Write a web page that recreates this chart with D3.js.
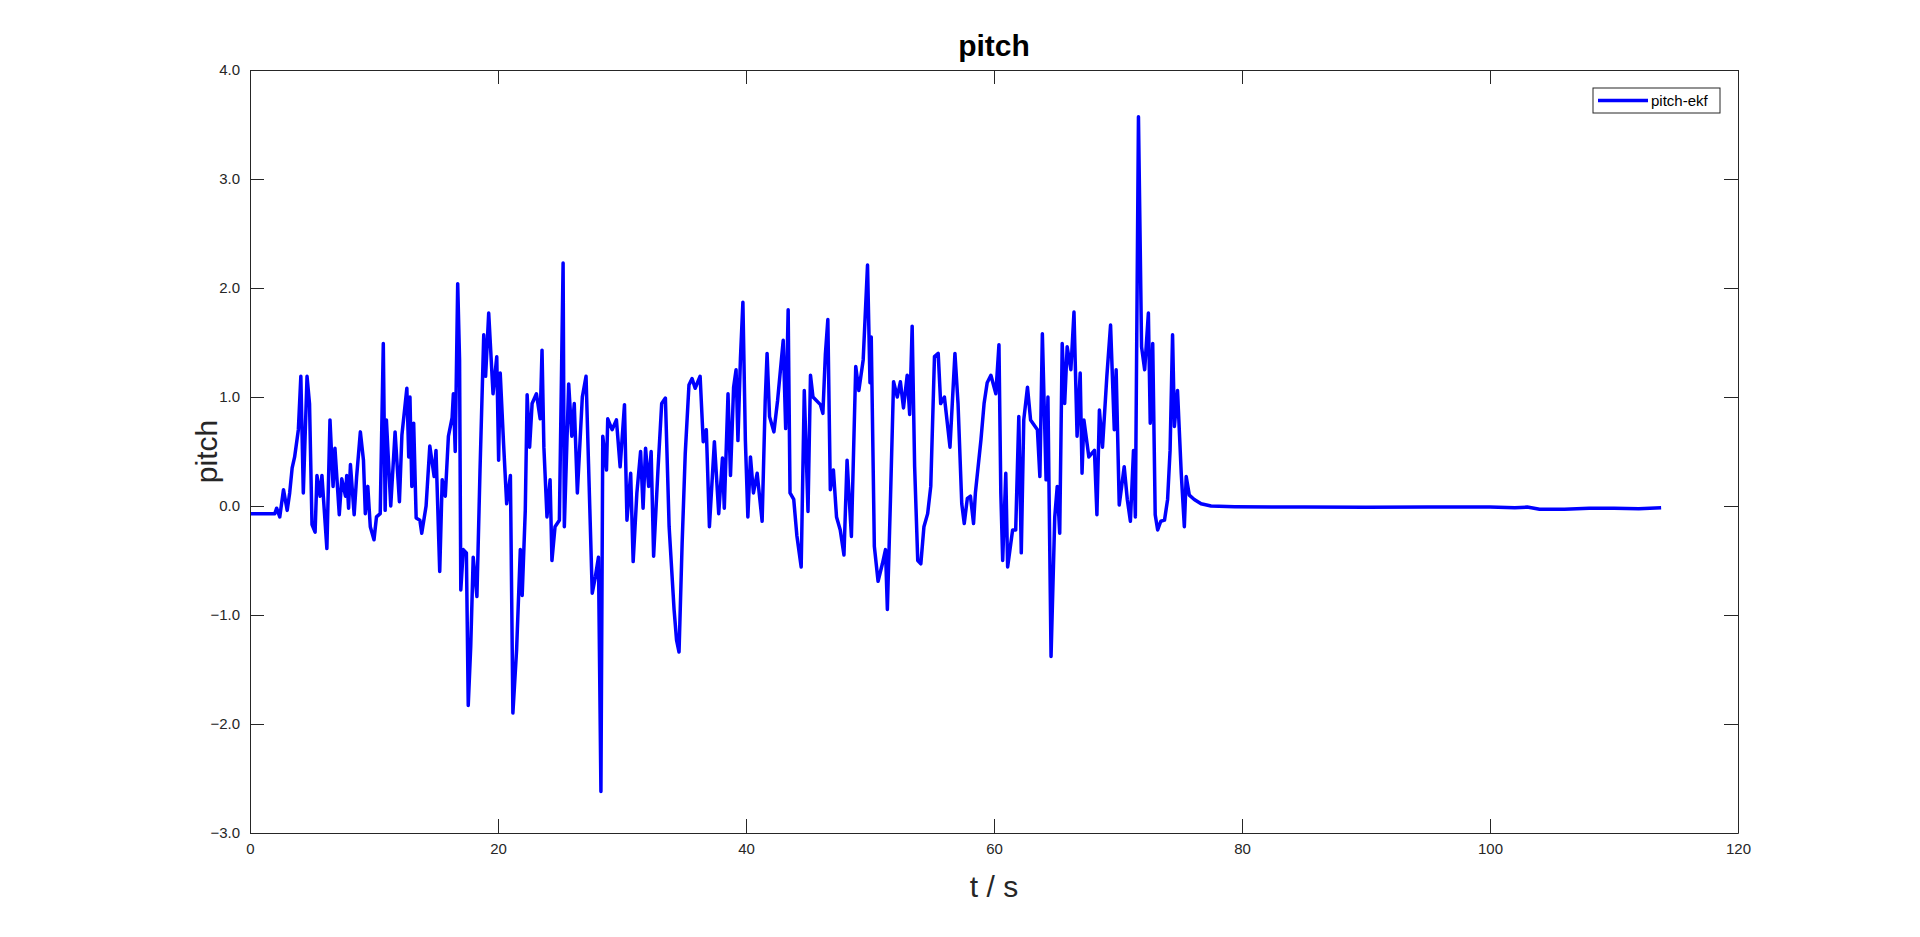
<!DOCTYPE html>
<html>
<head>
<meta charset="utf-8">
<script src="https://cdn.jsdelivr.net/npm/d3@7"></script>
<style>
  body { margin: 0; background: #fff; }
  text { font-family: "Liberation Sans", Arial, sans-serif; }
</style>
</head>
<body>
<div id="chart"></div>
<script>
// t in seconds, pitch values
const times = [0,2.0,2.15,2.4,2.7,3.0,3.2,3.4,3.6,3.9,4.1,4.3,4.6,4.8,5.0,5.25,5.4,5.65,5.8,6.2,6.45,6.7,6.85,7.2,7.4,7.7,7.8,7.95,8.1,8.4,8.6,8.9,9.15,9.3,9.5,9.7,10.0,10.2,10.5,10.75,10.9,11.0,11.35,11.7,12.05,12.25,12.65,12.8,12.9,13.05,13.2,13.4,13.7,13.85,14.2,14.5,14.85,15.0,15.3,15.5,15.75,16.0,16.3,16.4,16.55,16.75,16.9,17.0,17.2,17.45,17.6,17.8,18.0,18.3,18.55,18.85,19.0,19.25,19.6,19.9,20.05,
  20.18,20.45,20.7,21.0,21.2,21.5,21.8,21.95,22.2,22.35,22.55,22.75,23.1,23.4,23.55,23.7,23.95,24.2,24.35,24.6,24.95,25.25,25.35,25.7,25.95,26.15,26.4,26.8,27.1,27.3,27.6,27.85,28.1,28.3,28.45,28.75,28.85,29.2,29.55,29.85,30.2,30.4,30.7,30.9,31.2,31.5,31.7,31.9,32.15,32.35,32.55,32.9,33.2,33.5,33.8,34.2,34.4,34.6,34.85,35.1,35.4,35.65,35.9,36.3,36.55,36.8,37.05,37.45,37.8,38.1,38.25,38.55,38.75,39.0,39.2,39.35,39.55,39.75,39.95,40.15,
  40.36,40.6,40.9,41.3,41.55,41.7,41.9,42.25,42.55,43.0,43.2,43.4,43.55,43.85,44.1,44.45,44.7,45.0,45.2,45.4,46.0,46.2,46.4,46.6,46.8,47.05,47.3,47.6,47.9,48.15,48.5,48.85,49.1,49.45,49.8,50.0,50.1,50.35,50.65,51.0,51.25,51.4,51.65,51.9,52.2,52.45,52.7,53.0,53.2,53.4,53.6,53.85,54.1,54.35,54.65,54.9,55.2,55.5,55.7,56.0,56.45,56.85,57.1,57.4,57.6,57.85,58.1,58.35,58.5,58.95,59.2,59.45,59.75,60.15,60.4,60.55,
  60.7,60.95,61.1,61.5,61.75,62.0,62.2,62.4,62.7,62.95,63.5,63.7,63.9,64.2,64.35,64.6,64.9,65.1,65.3,65.5,65.7,65.9,66.2,66.45,66.7,66.95,67.1,67.25,67.65,68.1,68.3,68.5,68.75,69.1,69.4,69.7,69.85,70.1,70.5,70.75,71.0,71.25,71.4,71.65,71.9,72.15,72.45,72.6,72.8,73.0,73.2,73.45,73.75,74.0,74.2,74.4,74.55,74.8,75.1,75.35,75.5,75.75,76.15,76.7,77.5,79.4,
  85,90,95,100,102,103,104,106,108,110,112,113.8];
const pitch = [-0.07,-0.07,-0.02,-0.1,0.15,-0.04,0.12,0.35,0.45,0.70,1.19,0.12,1.19,0.94,-0.17,-0.24,0.28,0.09,0.28,-0.39,0.79,0.18,0.53,-0.08,0.25,0.09,0.28,-0.02,0.38,-0.08,0.27,0.68,0.42,-0.07,0.18,-0.19,-0.31,-0.1,-0.07,1.49,-0.04,0.79,0.0,0.68,0.04,0.65,1.08,0.45,1.0,0.18,0.76,-0.11,-0.13,-0.25,0.0,0.55,0.27,0.51,-0.6,0.24,0.09,0.64,0.81,1.03,0.5,2.04,1.34,-0.77,-0.4,-0.43,-1.83,-1.29,-0.47,-0.83,0.33,1.57,1.19,1.77,1.03,1.37,0.42,
  1.22,0.57,0.02,0.28,-1.9,-1.32,-0.4,-0.82,-0.04,1.02,0.54,0.94,1.03,0.8,1.43,0.54,-0.1,0.24,-0.5,-0.19,-0.13,2.23,-0.19,1.12,0.64,0.94,0.12,1.0,1.19,0.39,-0.8,-0.65,-0.47,-2.62,0.64,0.33,0.80,0.70,0.79,0.36,0.93,-0.13,0.30,-0.51,0.12,0.50,-0.02,0.53,0.18,0.50,-0.46,0.33,0.94,0.99,-0.19,-0.95,-1.23,-1.34,-0.34,0.48,1.11,1.17,1.08,1.19,0.59,0.70,-0.19,0.59,-0.07,0.44,-0.02,1.03,0.28,1.09,1.25,0.60,1.35,1.87,0.60,-0.1,
  0.45,0.12,0.30,-0.14,0.97,1.40,0.82,0.68,0.97,1.52,0.71,1.80,0.12,0.06,-0.27,-0.56,1.06,-0.05,1.20,1.0,0.93,0.85,1.39,1.71,0.15,0.33,-0.1,-0.22,-0.45,0.42,-0.28,1.28,1.06,1.34,2.21,1.13,1.55,-0.37,-0.69,-0.53,-0.4,-0.95,0.06,1.14,1.0,1.14,0.90,1.20,0.84,1.65,0.36,-0.50,-0.53,-0.19,-0.07,0.18,1.37,1.40,0.94,1.0,0.54,1.40,0.94,0.02,-0.16,0.07,0.09,-0.16,0.12,0.61,0.94,1.13,1.20,1.03,1.48,0.12,
  -0.50,0.30,-0.56,-0.22,-0.22,0.82,-0.43,0.79,1.09,0.79,0.70,0.27,1.58,0.24,1.0,-1.38,-0.10,0.18,-0.25,1.49,0.94,1.46,1.25,1.78,0.64,1.22,0.30,0.79,0.45,0.51,-0.08,0.88,0.54,1.19,1.66,0.70,1.25,0.01,0.36,0.06,-0.14,0.51,-0.10,3.57,1.46,1.25,1.77,0.76,1.49,-0.08,-0.22,-0.14,-0.13,0.06,0.51,1.57,0.73,1.06,0.30,-0.19,0.27,0.10,0.06,0.02,0.0,-0.006,
  -0.01,-0.012,-0.01,-0.01,-0.015,-0.01,-0.03,-0.03,-0.02,-0.02,-0.025,-0.015];
const xTicks = [0, 20, 40, 60, 80, 100, 120];
const yTicks = [-3, -2, -1, 0, 1, 2, 3, 4];

const w = 1920;
const h = 937;
const mLeft = 250, mRight = 1738, mTop = 70, mBottom = 833;
const tickLen = 14;

const svg = d3.select('#chart')
              .append('svg')
              .attr('width', w)
              .attr('height', h);

const xScale = d3.scaleLinear().domain([0, 120]).range([mLeft, mRight]);
const yScale = d3.scaleLinear().domain([-3, 4]).range([mBottom, mTop]);

const data = times.map((t, i) => [t, pitch[i]]);

svg.append('path')
   .datum(data)
   .attr('fill', 'none')
   .attr('stroke', '#0000ff')
   .attr('stroke-width', 3.5)
   .attr('stroke-linejoin', 'round')
   .attr('d', d3.line().x(d => xScale(d[0])).y(d => yScale(d[1])));

// axes, ticks inward on all four sides like matlab's box
const styleAxis = (g) => {
  g.select('.domain').attr('stroke', '#262626');
  g.selectAll('.tick line').attr('stroke', '#262626');
  g.selectAll('.tick text').attr('fill', '#262626').attr('font-size', 15)
   .attr('font-family', '"Liberation Sans", Arial, sans-serif');
};

svg.append('g')
   .attr('transform', 'translate(0,' + mBottom + ')')
   .call(d3.axisBottom(xScale).tickValues(xTicks).tickSizeInner(-tickLen).tickSizeOuter(0).tickPadding(10))
   .call(styleAxis);
svg.append('g')
   .attr('transform', 'translate(0,' + mTop + ')')
   .call(d3.axisTop(xScale).tickValues(xTicks).tickSizeInner(-tickLen).tickSizeOuter(0).tickFormat(''))
   .call(styleAxis);
svg.append('g')
   .attr('transform', 'translate(' + mLeft + ',0)')
   .call(d3.axisLeft(yScale).tickValues(yTicks).tickSizeInner(-tickLen).tickSizeOuter(0).tickPadding(10))
   .call(styleAxis);
svg.append('g')
   .attr('transform', 'translate(' + mRight + ',0)')
   .call(d3.axisRight(yScale).tickValues(yTicks).tickSizeInner(-tickLen).tickSizeOuter(0).tickFormat(''))
   .call(styleAxis);

svg.append('text')
   .text('pitch')
   .attr('x', (mLeft + mRight) / 2)
   .attr('y', 56)
   .attr('text-anchor', 'middle')
   .attr('font-weight', 'bold')
   .attr('font-size', 30)
   .attr('fill', '#000');

svg.append('text')
   .text('t / s')
   .attr('x', (mLeft + mRight) / 2)
   .attr('y', 897)
   .attr('text-anchor', 'middle')
   .attr('font-size', 30)
   .attr('fill', '#262626');

svg.append('text')
   .text('pitch')
   .attr('transform', 'translate(217,' + (mTop + mBottom) / 2 + ') rotate(-90)')
   .attr('text-anchor', 'middle')
   .attr('font-size', 30)
   .attr('fill', '#262626');

// legend
const legend = svg.append('g').attr('transform', 'translate(1593,88)');
legend.append('rect')
      .attr('width', 127).attr('height', 25)
      .attr('fill', '#fff').attr('stroke', '#262626').attr('stroke-width', 1);
legend.append('line')
      .attr('x1', 5).attr('x2', 55).attr('y1', 12.5).attr('y2', 12.5)
      .attr('stroke', '#0000ff').attr('stroke-width', 3.5);
legend.append('text')
      .text('pitch-ekf')
      .attr('x', 58).attr('y', 17.5)
      .attr('font-size', 15).attr('fill', '#000');
</script>
</body>
</html>
